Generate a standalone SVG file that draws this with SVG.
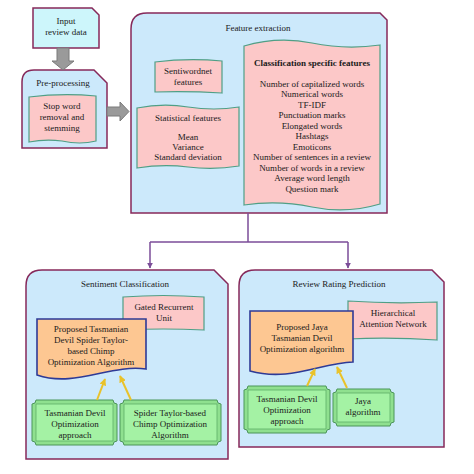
<svg xmlns="http://www.w3.org/2000/svg" width="474" height="474" viewBox="0 0 474 474">
<defs>
<style>
text{font-family:"Liberation Serif","Times New Roman",serif;font-size:9px;fill:#1a1a1a;text-anchor:middle}
.b{font-weight:bold}
.cont{fill:#cce9fb;stroke:#86295a;stroke-width:1.5}
.pink{fill:#fcc8c8;stroke:#4f9f86;stroke-width:1.2}
.orange{fill:#fdc792;stroke:#2e3a96;stroke-width:1.6}
.gout{fill:#8fe08f;stroke:#4b9558;stroke-width:1}
.gin{fill:#a4f2a4;stroke:#5eae66;stroke-width:0.8}
.gray{fill:#9a9a9a;stroke:#7a7a7a;stroke-width:1}
.conn{fill:none;stroke:#7b4d98;stroke-width:1.5}
.yel{fill:none;stroke:#e9c22a;stroke-width:2}
</style>
<marker id="pa" viewBox="0 0 10 10" refX="9" refY="5" markerWidth="4" markerHeight="4" orient="auto"><path d="M0,0 L10,5 L0,10 z" fill="#7b4d98"/></marker>
<marker id="ya" viewBox="0 0 10 10" refX="9" refY="5" markerWidth="3.5" markerHeight="3.5" orient="auto"><path d="M0,0 L10,5 L0,10 z" fill="#e9c22a"/></marker>
</defs>
<rect width="474" height="474" fill="#ffffff"/>

<g id="input">
<path d="M33,8 H92 L99,15 V48 H33 Z" fill="#cdf6fb" stroke="#86295a" stroke-width="1.5"/>
<text x="66" y="24">Input</text>
<text x="66" y="35">review data</text>
</g>

<g id="preprocessing">
<path class="cont" d="M22,82 Q22,70 34,70 H94 L107,83 V148 H22 Z"/>
<text x="63" y="86">Pre-processing</text>
<path class="pink" d="M29,97 Q62,93 96,96 V141 Q80,145 62,141 Q45,139 29,142 Z"/>
<text x="62" y="109">Stop word</text>
<text x="62" y="120">removal and</text>
<text x="62" y="131">stemming</text>
</g>

<g id="feature">
<path class="cont" d="M131,29 Q131,13 147,13 H380 L387,20 V213 H131 Z"/>
<text x="258" y="31">Feature extraction</text>
</g>

<g id="sentiwordnet">
<path class="pink" d="M155,62 Q188,58 222,61 V93 Q188,91 155,92 Z"/>
<text x="188" y="74">Sentiwordnet</text>
<text x="188" y="85">features</text>
</g>

<g id="statistical">
<path class="pink" d="M137,108 Q163,103 188,107 Q214,111 239,107 V166 Q214,170 188,167 Q163,164 137,168 Z"/>
<text x="188" y="121">Statistical features</text>
<text x="188" y="140">Mean</text>
<text x="188" y="150">Variance</text>
<text x="188" y="160">Standard deviation</text>
</g>

<g id="classification">
<path class="pink" d="M244,46 Q278,36 312,43 Q346,50 380,45 V204 Q346,214 312,207 Q278,200 244,205 Z"/>
<text class="b" x="312" y="66">Classification specific features</text>
<text x="312" y="87">Number of capitalized words</text>
<text x="312" y="97">Numerical words</text>
<text x="312" y="108">TF-IDF</text>
<text x="312" y="118">Punctuation marks</text>
<text x="312" y="129">Elongated words</text>
<text x="312" y="139">Hashtags</text>
<text x="312" y="150">Emoticons</text>
<text x="312" y="160">Number of sentences in a review</text>
<text x="312" y="171">Number of words in a review</text>
<text x="312" y="181">Average word length</text>
<text x="312" y="192">Question mark</text>
</g>

<g id="sentiment">
<path class="cont" d="M26,286 Q26,270 42,270 H214 L228,284 V459 H26 Z"/>
<text x="125" y="287">Sentiment Classification</text>
</g>

<g id="gru">
<path class="pink" d="M123,297 Q163,294 204,297 V330 Q163,328 123,330 Z"/>
<text x="164" y="310">Gated Recurrent</text>
<text x="164" y="321">Unit</text>
</g>

<g id="tdscoa">
<path class="orange" d="M37,319 H146 V369 C110,364 75,388 37,375 Z"/>
<text x="91" y="332">Proposed Tasmanian</text>
<text x="91" y="343">Devil Spider Taylor-</text>
<text x="91" y="354">based Chimp</text>
<text x="91" y="365">Optimization Algorithm</text>
</g>

<g id="tdo1">
<path class="gout" d="M36,400 H113 Q113,404 117,404 V441 Q113,441 113,445 H36 Q36,441 32,441 V404 Q36,404 36,400 Z"/>
<rect class="gin" x="36" y="404" width="77" height="37"/>
<text x="75" y="416">Tasmanian Devil</text>
<text x="75" y="427">Optimization</text>
<text x="75" y="438">approach</text>
</g>

<g id="stcoa">
<path class="gout" d="M124,400 H217 Q217,404 221,404 V441 Q217,441 217,445 H124 Q124,441 120,441 V404 Q124,404 124,400 Z"/>
<rect class="gin" x="124" y="404" width="93" height="37"/>
<text x="170" y="416">Spider Taylor-based</text>
<text x="170" y="427">Chimp Optimization</text>
<text x="170" y="438">Algorithm</text>
</g>

<g id="rating">
<path class="cont" d="M239,286 Q239,270 255,270 H432 L444,282 V447 H239 Z"/>
<text x="339" y="287">Review Rating Prediction</text>
</g>

<g id="han">
<path class="pink" d="M348,301 Q392,304 437,302 V340 Q392,337 348,339 Z"/>
<text x="393" y="316">Hierarchical</text>
<text x="393" y="327">Attention Network</text>
</g>

<g id="jtdo">
<path class="orange" d="M250,311 H353 V362 C320,363 290,382 250,371 Z"/>
<text x="302" y="330">Proposed Jaya</text>
<text x="302" y="341">Tasmanian Devil</text>
<text x="302" y="352">Optimization algorithm</text>
</g>

<g id="tdo2">
<path class="gout" d="M248,386 H326 Q326,390 330,390 V429 Q326,429 326,433 H248 Q248,429 244,429 V390 Q248,390 248,386 Z"/>
<rect class="gin" x="248" y="390" width="78" height="39"/>
<text x="287" y="402">Tasmanian Devil</text>
<text x="287" y="413">Optimization</text>
<text x="287" y="424">approach</text>
</g>

<g id="jaya">
<path class="gout" d="M337,389 H390 Q390,393 394,393 V422 Q390,422 390,426 H337 Q337,422 333,422 V393 Q337,393 337,389 Z"/>
<rect class="gin" x="337" y="393" width="53" height="29"/>
<text x="363" y="404">Jaya</text>
<text x="363" y="415">algorithm</text>
</g>

<g id="connectors">
<path class="gray" d="M57,48 H69 V61 H74 L63,70 L52,61 H57 Z"/>
<path class="gray" d="M107,107 H120 V102 L129,111.5 L120,121 V116 H107 Z"/>
<path class="conn" d="M248,213 V242"/>
<path class="conn" d="M150,242 H348"/>
<path class="conn" d="M150,242 V268" marker-end="url(#pa)"/>
<path class="conn" d="M348,242 V268" marker-end="url(#pa)"/>
<path class="yel" d="M97,400 L105,379" marker-end="url(#ya)"/>
<path class="yel" d="M131,400 L120,376" marker-end="url(#ya)"/>
<path class="yel" d="M307,386 L315,369" marker-end="url(#ya)"/>
<path class="yel" d="M347,388 L337,367" marker-end="url(#ya)"/>
</g>
</svg>
